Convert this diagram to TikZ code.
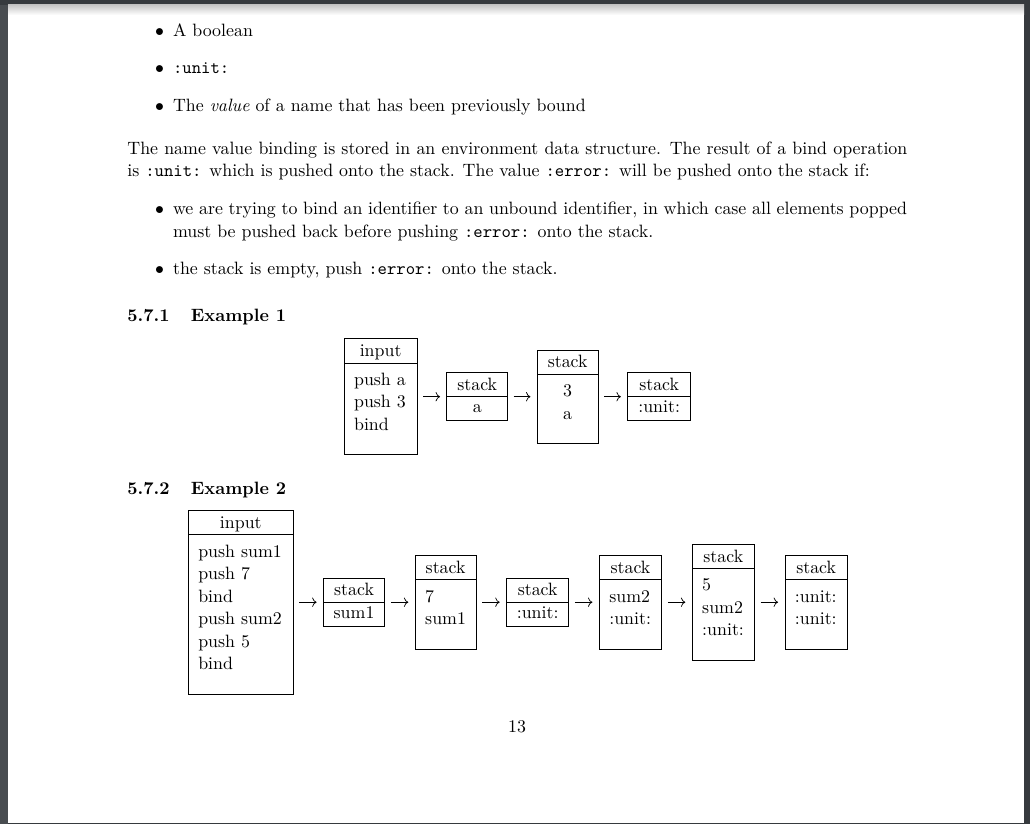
\documentclass[tikz,border=0pt]{standalone}
\usepackage{tikz}
\usetikzlibrary{positioning, shapes.multipart, arrows.meta}
\definecolor{viewer}{RGB}{54,58,62}
\definecolor{viewerside}{RGB}{72,76,80}
\newdimen\pxu \pxu=0.56pt
% header and body cells of the stack boxes
\newcommand{\cellhead}[1]{\rule[-6\pxu]{0pt}{23.4\pxu}#1}
\newcommand{\cellleft}[3]{\parbox[t][#2\pxu][t]{#1\pxu}{\raggedright\leftskip=10\pxu\baselineskip=22.5\pxu\rule{0pt}{22\pxu}\ignorespaces#3}}
\newcommand{\cellmid}[3]{\parbox[t][#2\pxu][t]{#1\pxu}{\centering\baselineskip=22.5\pxu\rule{0pt}{22\pxu}\ignorespaces#3}}
\newcommand{\cellone}[2]{\parbox[t][23\pxu][t]{#1\pxu}{\centering\rule{0pt}{15.5\pxu}#2}}
\newcommand{\itemdot}{\llap{$\bullet$\hspace{5pt}}}

\begin{document}
\begin{tikzpicture}[
    x=0.56pt, y=-0.56pt,
    stk/.style={draw, line width=0.5pt, rectangle split, rectangle split parts=2,
                inner sep=0pt},
    txt/.style={anchor=base west, inner sep=0pt},
    edge/.style={-{Computer Modern Rightarrow}, line width=0.4pt,
                 shorten <=3.2pt, shorten >=3.6pt}
]
\useasboundingbox (0,0) rectangle (1030,824);
% viewer frame round the page
\fill[viewer] (0,0) rectangle (1030,824);
\fill[viewerside] (0,5) rectangle (8,824);
\fill[white] (8,5) rectangle (1024,822.7);
\shade[top color=black!22, bottom color=white] (8,5) rectangle (1024,15);

% text of the page
\node[txt] (b1) at (172.7,36.5) {\itemdot A boolean};
\node[txt] (b2) at (172.7,74) {\itemdot\texttt{:unit:}};
\node[txt] (b3) at (172.7,111.5) {\itemdot The \emph{value} of a name that has been previously bound};
\node[txt] (p1) at (127,154.2) {\makebox[780\pxu][s]{The name value binding is stored in an environment data structure. The result of a bind operation}};
\node[txt] (p2) at (127,176.2) {is \texttt{:unit:} which is pushed onto the stack. The value \texttt{:error:} will be pushed onto the stack if:};
\node[txt] (c1) at (172.7,214.2) {\itemdot\makebox[734\pxu][s]{we are trying to bind an identifier to an unbound identifier, in which case all elements popped}};
\node[txt] (c1b) at (172.7,237.2) {must be pushed back before pushing \texttt{:error:} onto the stack.};
\node[txt] (c2) at (172.7,274.2) {\itemdot the stack is empty, push \texttt{:error:} onto the stack.};
\node[txt, font=\bfseries] (h1) at (127,322) {5.7.1\hspace{12pt}Example 1};
\node[txt, font=\bfseries] (h2) at (127,494) {5.7.2\hspace{12pt}Example 2};
\node[anchor=base, inner sep=0pt] (pg) at (517,732.5) {13};

% example 1
\node[stk] (e1in) at (380.6,396.7) {\cellhead{input}\nodepart{two}\cellleft{73}{90.7}{push a\\push 3\\bind}};
\node[stk, right=16.2pt of e1in] (e1s1) {\cellhead{stack}\nodepart{two}\cellone{60.6}{a}};
\node[stk, right=16.2pt of e1s1] (e1s2) {\cellhead{stack}\nodepart{two}\cellmid{60.6}{68.3}{3\\a}};
\node[stk, right=16.2pt of e1s2] (e1s3) {\cellhead{stack}\nodepart{two}\cellone{62.8}{:unit:}};
\draw[edge] (e1in) -- (e1s1);
\draw[edge] (e1s1) -- (e1s2);
\draw[edge] (e1s2) -- (e1s3);

% example 2
\node[stk] (e2in) at (240.8,602.2) {\cellhead{input}\nodepart{two}\cellleft{105}{158.4}{push sum1\\push 7\\bind\\push sum2\\push 5\\bind}};
\node[stk, right=16.4pt of e2in] (e2s1) {\cellhead{stack}\nodepart{two}\cellone{61.2}{sum1}};
\node[stk, right=16.6pt of e2s1] (e2s2) {\cellhead{stack}\nodepart{two}\cellleft{60.8}{68.3}{7\\sum1}};
\node[stk, right=16.6pt of e2s2] (e2s3) {\cellhead{stack}\nodepart{two}\cellone{62.2}{:unit:}};
\node[stk, right=16.6pt of e2s3] (e2s4) {\cellhead{stack}\nodepart{two}\cellleft{62.4}{68.3}{sum2\\:unit:}};
\node[stk, right=16.6pt of e2s4] (e2s5) {\cellhead{stack}\nodepart{two}\cellleft{62.2}{90.7}{5\\sum2\\:unit:}};
\node[stk, right=16.6pt of e2s5] (e2s6) {\cellhead{stack}\nodepart{two}\cellleft{62.4}{68.3}{:unit:\\:unit:}};
\draw[edge] (e2in) -- (e2s1);
\draw[edge] (e2s1) -- (e2s2);
\draw[edge] (e2s2) -- (e2s3);
\draw[edge] (e2s3) -- (e2s4);
\draw[edge] (e2s4) -- (e2s5);
\draw[edge] (e2s5) -- (e2s6);
\end{tikzpicture}
\end{document}
